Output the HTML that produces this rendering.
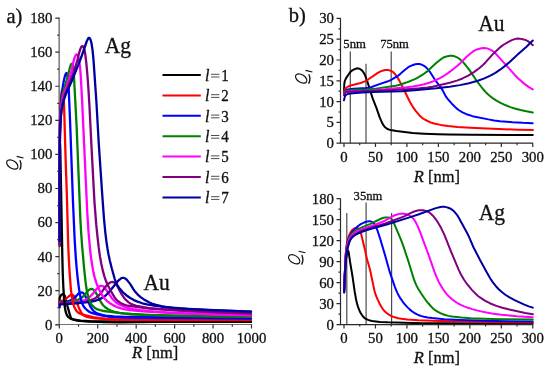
<!DOCTYPE html><html><head><meta charset="utf-8"><style>html,body{margin:0;padding:0;background:#fff;}svg{display:block;will-change:transform;}text{font-family:"Liberation Serif",serif;fill:#111;stroke:#111;stroke-width:0.3px;}</style></head><body>
<svg width="550" height="373" viewBox="0 0 550 373">
<rect width="550" height="373" fill="#fff"/>
<path d="M59.2,17.6 V325" stroke="#858585" stroke-width="1.7" fill="none"/>
<path d="M55.5,324.5 H251.8" stroke="#707070" stroke-width="1.2" fill="none"/>
<path d="M55.3,324.80 H59.2 M55.3,290.72 H59.2 M55.3,256.64 H59.2 M55.3,222.57 H59.2 M55.3,188.49 H59.2 M55.3,154.41 H59.2 M55.3,120.33 H59.2 M55.3,86.25 H59.2 M55.3,52.18 H59.2 M55.3,18.10 H59.2 M57.2,307.76 H59.2 M57.2,273.68 H59.2 M57.2,239.61 H59.2 M57.2,205.53 H59.2 M57.2,171.45 H59.2 M57.2,137.37 H59.2 M57.2,103.29 H59.2 M57.2,69.22 H59.2 M57.2,35.14 H59.2 M59.30,324.5 V328.6 M97.74,324.5 V328.6 M136.18,324.5 V328.6 M174.62,324.5 V328.6 M213.06,324.5 V328.6 M251.50,324.5 V328.6 M78.52,324.5 V326.8 M116.96,324.5 V326.8 M155.40,324.5 V326.8 M193.84,324.5 V326.8 M232.28,324.5 V326.8" stroke="#333" stroke-width="1.2" fill="none"/>
<g fill="none" stroke-width="2.30" stroke-linejoin="round" stroke-linecap="round">
<path d="M59.70,303.21 59.60,298.67 59.78,297.79 60.36,296.34 61.09,295.21 62.14,294.41 63.01,294.15 63.78,294.49 64.61,295.52 65.27,297.12 67.51,306.26 69.68,314.14 70.51,316.66 71.13,317.94 72.08,318.95 73.30,319.48 77.39,320.25 80.73,320.70 89.73,321.25 106.53,321.42 118.75,321.43 153.57,321.13 192.51,321.05 219.62,321.19 251.00,321.56" stroke="#000000"/>
<path d="M59.70,303.62 59.62,302.27 59.86,301.84 60.25,301.50 63.87,300.12 65.23,299.44 66.16,298.73 69.11,296.00 70.07,295.37 71.53,294.80 72.13,294.79 72.72,294.96 73.86,295.75 74.96,297.57 76.15,300.32 78.62,307.13 79.53,309.27 81.02,312.12 82.71,314.47 84.77,316.01 86.95,316.94 90.49,317.73 95.43,318.31 112.07,319.29 122.38,319.51 202.35,319.73 251.00,320.03" stroke="#ff0000"/>
<path d="M59.70,304.28 59.60,303.20 60.00,302.83 61.81,302.52 66.52,302.05 72.23,299.44 73.67,298.51 75.24,297.24 77.55,294.58 78.73,293.45 80.35,292.56 81.55,292.32 82.29,292.51 83.12,293.00 83.75,293.58 84.33,294.39 85.27,296.00 86.77,299.21 88.54,302.29 90.26,306.27 91.95,308.91 93.74,311.13 95.53,312.50 97.74,313.61 103.28,315.14 105.69,315.66 113.84,316.48 124.22,316.80 198.23,317.57 251.00,318.33" stroke="#0000ff"/>
<path d="M59.70,304.57 59.60,303.50 60.03,303.22 65.96,302.82 68.92,302.37 74.67,301.25 78.16,299.79 80.91,298.24 82.94,296.63 84.47,295.10 86.86,292.07 88.90,289.93 90.24,289.21 91.67,288.96 92.48,289.17 93.53,289.78 94.16,290.35 95.00,291.39 96.66,294.07 99.30,299.21 101.50,303.01 102.94,304.99 104.89,306.95 107.79,309.02 110.64,310.48 114.57,311.76 119.40,312.80 124.11,313.41 131.58,313.99 143.71,314.65 156.31,315.13 200.60,316.16 251.00,316.96" stroke="#008000"/>
<path d="M59.70,304.89 59.60,303.82 60.03,303.57 67.50,303.18 77.99,301.86 81.61,301.14 84.87,300.03 87.74,298.36 89.35,297.18 90.56,296.12 93.45,293.09 96.34,289.30 98.48,286.99 99.16,286.52 100.02,286.14 100.99,285.86 101.75,285.80 103.07,286.23 103.97,286.81 104.52,287.34 111.72,297.93 114.15,300.74 116.11,302.51 117.55,303.45 119.33,304.41 125.28,307.00 128.54,308.08 133.28,309.21 140.18,310.26 149.02,311.20 160.61,312.08 174.11,312.87 188.69,313.52 216.48,314.50 234.66,314.99 251.00,315.26" stroke="#ff00ff"/>
<path d="M59.70,305.14 59.61,303.97 60.05,303.73 73.40,303.04 83.15,302.14 85.12,301.81 87.07,301.31 90.78,300.13 93.20,299.19 94.78,298.41 96.29,297.43 98.07,296.04 99.57,294.63 101.54,292.36 104.75,287.69 106.38,285.68 107.46,284.55 110.34,282.44 111.28,282.05 112.19,281.94 113.32,282.17 114.55,282.70 115.33,283.33 116.25,284.40 117.10,285.71 120.09,291.54 121.39,293.81 124.00,297.68 126.14,300.16 128.69,302.42 130.87,303.89 133.27,304.87 136.57,305.76 143.59,307.20 149.28,308.02 158.19,308.93 170.85,309.90 186.65,310.85 212.98,312.15 232.98,312.98 251.00,313.55" stroke="#800080"/>
<path d="M59.70,307.23 59.64,305.04 59.99,304.69 60.65,304.46 64.51,304.04 76.57,303.47 87.68,302.20 91.70,301.54 94.86,300.84 97.77,299.94 100.47,298.85 103.56,297.07 106.12,295.04 109.29,291.68 118.36,280.55 121.10,278.33 121.96,277.92 122.79,277.80 123.84,277.99 125.23,278.53 126.05,279.07 126.92,279.90 130.09,283.90 133.50,289.41 134.76,291.20 137.50,294.30 140.28,296.84 143.92,299.43 148.91,302.28 151.81,303.54 156.06,304.83 162.22,306.29 166.61,307.11 171.86,307.72 179.33,308.33 203.06,309.64 251.00,311.68" stroke="#0000a0"/>
<path d="M59.68,246.11 59.62,173.72 59.79,154.42 59.95,146.74 60.09,144.82 60.30,149.93 62.38,258.89 62.76,273.19 63.30,286.51 64.16,300.06 64.65,305.50 65.09,308.87 65.75,311.88 66.60,314.52 67.34,315.95 68.40,317.12 70.07,318.38 71.90,319.23 75.41,320.13 79.31,320.82 82.59,321.21 86.33,321.46 103.98,322.20 119.79,322.35 153.77,321.90 251.00,321.90" stroke="#000000"/>
<path d="M59.67,245.50 59.60,170.64 59.87,123.94 60.32,109.36 60.93,98.41 61.28,94.60 61.72,91.53 62.16,89.78 62.43,89.33 62.63,89.30 63.05,90.36 63.40,92.86 63.98,103.06 65.83,165.89 66.80,192.81 68.19,244.63 68.69,256.74 69.59,272.23 70.80,288.36 71.47,294.14 72.29,299.50 73.07,303.23 73.99,306.21 75.24,308.99 76.59,311.07 78.03,312.40 80.23,313.68 82.68,314.64 85.81,315.47 93.13,317.03 100.08,318.22 106.73,319.06 113.14,319.56 129.56,319.97 148.73,320.18 251.00,320.20" stroke="#ff0000"/>
<path d="M59.67,243.67 59.65,149.96 59.85,130.67 60.29,115.44 60.72,107.08 61.26,99.85 61.94,93.33 62.88,86.25 63.79,80.79 64.80,76.48 65.80,73.75 66.24,73.15 66.61,73.08 66.96,73.50 67.30,74.47 67.87,77.93 68.38,83.78 68.89,92.61 70.03,120.39 72.98,201.71 74.66,239.62 75.78,257.56 76.62,267.74 77.52,276.79 78.57,285.62 79.55,292.32 80.58,297.60 81.74,302.11 82.83,304.94 84.10,307.04 85.83,308.99 88.04,310.95 89.71,312.06 91.54,312.83 96.88,314.39 102.46,315.64 108.11,316.54 113.91,317.11 127.20,317.67 140.33,317.96 203.57,318.02 251.00,318.50" stroke="#0000ff"/>
<path d="M59.66,242.46 59.58,184.02 59.70,144.53 60.00,126.00 60.80,109.20 61.70,99.63 62.29,95.84 63.01,92.48 64.19,88.24 66.88,79.56 70.30,66.18 70.73,64.99 71.17,64.18 71.61,63.78 72.06,63.76 72.43,64.09 72.71,64.67 73.24,67.22 73.64,71.29 74.10,78.89 76.62,126.58 80.37,219.32 81.10,232.06 82.10,245.71 84.12,268.59 85.52,281.53 86.34,287.79 87.35,293.15 88.65,298.26 89.87,301.76 91.21,304.18 93.17,306.46 95.37,308.27 97.43,309.37 100.26,310.22 103.92,311.01 108.27,311.67 124.46,313.60 131.64,314.31 144.77,314.96 179.83,315.91 218.93,316.60 251.00,316.96" stroke="#008000"/>
<path d="M59.66,242.46 59.59,180.98 59.73,142.13 60.13,123.79 60.51,116.00 61.01,109.30 61.96,101.65 62.60,98.38 63.42,95.17 64.27,92.55 66.66,86.17 70.58,74.22 71.69,70.11 73.45,61.69 74.35,58.35 75.07,56.44 75.73,55.15 76.33,54.49 76.86,54.43 77.46,55.07 78.04,56.38 78.59,58.25 79.12,60.66 80.01,67.11 80.73,75.63 82.17,101.83 87.24,212.19 88.54,232.16 90.18,250.50 91.19,258.76 92.36,266.49 93.57,272.87 94.79,277.89 96.35,282.90 98.16,287.57 100.31,291.95 102.78,296.10 104.81,298.79 107.16,301.06 110.43,303.60 113.78,305.61 117.06,307.04 121.25,308.39 125.15,309.29 129.88,310.03 137.21,310.80 146.83,311.52 165.54,312.63 180.97,313.39 219.99,314.68 251.00,315.26" stroke="#ff00ff"/>
<path d="M59.66,241.85 59.59,179.17 59.78,142.80 59.97,133.28 60.30,124.73 60.81,116.70 61.40,110.51 61.96,106.47 62.65,102.72 63.45,99.28 64.43,95.95 67.62,87.34 71.20,78.77 73.22,73.11 77.00,61.70 79.16,52.79 80.15,49.59 80.88,47.81 81.55,46.63 82.15,46.08 82.68,46.07 83.35,46.76 84.00,48.22 84.55,50.22 85.05,52.89 86.24,62.20 87.45,75.48 88.48,89.74 89.47,106.20 91.59,148.64 94.49,202.31 96.28,224.93 97.53,237.23 98.78,247.96 99.97,256.48 101.22,263.42 102.88,270.88 104.62,277.11 106.20,281.59 107.97,285.58 109.90,289.25 114.30,296.94 116.03,299.31 118.08,301.24 120.59,302.98 123.41,304.33 126.23,305.27 129.28,305.97 141.65,307.70 147.91,308.35 156.31,309.03 180.75,310.55 218.93,312.36 251.00,313.55" stroke="#800080"/>
<path d="M59.66,241.24 59.60,184.07 59.83,148.95 60.13,134.65 60.52,123.00 60.95,116.03 61.59,110.26 62.26,106.39 63.20,102.38 64.25,98.76 65.54,95.09 67.66,89.92 71.94,80.68 79.30,62.32 81.47,56.51 86.85,41.00 88.18,38.43 88.71,37.90 89.24,37.83 89.84,38.36 90.43,39.49 90.99,41.15 91.53,43.38 92.51,49.93 93.47,59.35 96.42,101.97 98.71,142.49 102.18,194.01 103.98,218.74 105.44,233.53 106.46,241.75 107.45,248.44 108.57,254.73 109.82,260.59 111.74,268.20 114.59,278.51 115.95,282.38 117.51,285.47 119.83,288.86 122.94,292.28 126.27,295.21 130.23,297.99 133.89,300.11 137.55,301.68 142.28,303.26 147.01,304.36 154.11,305.55 163.73,306.77 175.56,308.02 186.56,308.93 208.93,310.12 251.00,311.68" stroke="#0000a0"/>
</g>
<text transform="translate(52.40,329.70) scale(1,1.03)" font-size="14.8" text-anchor="end">0</text>
<text transform="translate(52.40,295.62) scale(1,1.03)" font-size="14.8" text-anchor="end">20</text>
<text transform="translate(52.40,261.54) scale(1,1.03)" font-size="14.8" text-anchor="end">40</text>
<text transform="translate(52.40,227.47) scale(1,1.03)" font-size="14.8" text-anchor="end">60</text>
<text transform="translate(52.40,193.39) scale(1,1.03)" font-size="14.8" text-anchor="end">80</text>
<text transform="translate(52.40,159.31) scale(1,1.03)" font-size="14.8" text-anchor="end">100</text>
<text transform="translate(52.40,125.23) scale(1,1.03)" font-size="14.8" text-anchor="end">120</text>
<text transform="translate(52.40,91.15) scale(1,1.03)" font-size="14.8" text-anchor="end">140</text>
<text transform="translate(52.40,57.08) scale(1,1.03)" font-size="14.8" text-anchor="end">160</text>
<text transform="translate(52.40,23.00) scale(1,1.03)" font-size="14.8" text-anchor="end">180</text>
<text transform="translate(59.30,342.70) scale(1,1.03)" font-size="14.8" text-anchor="middle">0</text>
<text transform="translate(97.74,342.70) scale(1,1.03)" font-size="14.8" text-anchor="middle">200</text>
<text transform="translate(136.18,342.70) scale(1,1.03)" font-size="14.8" text-anchor="middle">400</text>
<text transform="translate(174.62,342.70) scale(1,1.03)" font-size="14.8" text-anchor="middle">600</text>
<text transform="translate(213.06,342.70) scale(1,1.03)" font-size="14.8" text-anchor="middle">800</text>
<text transform="translate(251.50,342.70) scale(1,1.03)" font-size="14.8" text-anchor="middle">1000</text>
<text transform="translate(132.00,358.30) scale(1,1.05)" font-size="16.5"><tspan font-style="italic">R</tspan> [nm]</text>
<g transform="translate(12.30,164.50)" fill="none" stroke="#111"><ellipse cx="0" cy="0" rx="6.3" ry="3.75" transform="rotate(32)" stroke-width="1.15"/><path d="M7.6,-4.3 Q9.9,0.5 7.4,5.3" stroke-width="1.35"/><path d="M4.4,-8.1 L11.2,-6.5" stroke-width="1.15"/></g>
<text transform="translate(6.50,22.90) scale(1,1.05)" font-size="20.5">a)</text>
<text transform="translate(104.80,53.40) scale(1,1.05)" font-size="21.5">Ag</text>
<text transform="translate(143.40,289.60) scale(1,1.05)" font-size="21.5">Au</text>
<path d="M162.5,75.00 H200.8" stroke="#000000" stroke-width="2" />
<text transform="translate(205.00,80.80) scale(1,1.05)" font-size="15"><tspan x="0" font-style="italic" font-size="16">l</tspan><tspan x="16.3">1</tspan></text>
<path d="M211,74.30 H219.4 M211,77.00 H219.4" stroke="#3a3a3a" stroke-width="0.9"/>
<path d="M162.5,95.40 H200.8" stroke="#ff0000" stroke-width="2" />
<text transform="translate(205.00,101.20) scale(1,1.05)" font-size="15"><tspan x="0" font-style="italic" font-size="16">l</tspan><tspan x="16.3">2</tspan></text>
<path d="M211,94.70 H219.4 M211,97.40 H219.4" stroke="#3a3a3a" stroke-width="0.9"/>
<path d="M162.5,115.80 H200.8" stroke="#0000ff" stroke-width="2" />
<text transform="translate(205.00,121.60) scale(1,1.05)" font-size="15"><tspan x="0" font-style="italic" font-size="16">l</tspan><tspan x="16.3">3</tspan></text>
<path d="M211,115.10 H219.4 M211,117.80 H219.4" stroke="#3a3a3a" stroke-width="0.9"/>
<path d="M162.5,136.20 H200.8" stroke="#008000" stroke-width="2" />
<text transform="translate(205.00,142.00) scale(1,1.05)" font-size="15"><tspan x="0" font-style="italic" font-size="16">l</tspan><tspan x="16.3">4</tspan></text>
<path d="M211,135.50 H219.4 M211,138.20 H219.4" stroke="#3a3a3a" stroke-width="0.9"/>
<path d="M162.5,156.60 H200.8" stroke="#ff00ff" stroke-width="2" />
<text transform="translate(205.00,162.40) scale(1,1.05)" font-size="15"><tspan x="0" font-style="italic" font-size="16">l</tspan><tspan x="16.3">5</tspan></text>
<path d="M211,155.90 H219.4 M211,158.60 H219.4" stroke="#3a3a3a" stroke-width="0.9"/>
<path d="M162.5,177.00 H200.8" stroke="#800080" stroke-width="2" />
<text transform="translate(205.00,182.80) scale(1,1.05)" font-size="15"><tspan x="0" font-style="italic" font-size="16">l</tspan><tspan x="16.3">6</tspan></text>
<path d="M211,176.30 H219.4 M211,179.00 H219.4" stroke="#3a3a3a" stroke-width="0.9"/>
<path d="M162.5,197.40 H200.8" stroke="#0000a0" stroke-width="2" />
<text transform="translate(205.00,203.20) scale(1,1.05)" font-size="15"><tspan x="0" font-style="italic" font-size="16">l</tspan><tspan x="16.3">7</tspan></text>
<path d="M211,196.70 H219.4 M211,199.40 H219.4" stroke="#3a3a3a" stroke-width="0.9"/>
<path d="M350.30,51.50 V143.20" stroke="#4a4a4a" stroke-width="1.2" fill="none"/>
<path d="M366.00,63.80 V143.20" stroke="#4a4a4a" stroke-width="1.2" fill="none"/>
<path d="M391.20,51.50 V143.20" stroke="#4a4a4a" stroke-width="1.2" fill="none"/>
<g fill="none" stroke-width="2.00" stroke-linejoin="round" stroke-linecap="round">
<path d="M344.00,90.50 344.34,83.51 344.93,80.57 346.12,78.10 349.88,72.52 351.29,71.11 352.70,70.10 354.70,69.09 356.58,68.49 357.79,68.37 358.98,68.57 360.30,69.19 361.50,70.07 362.71,71.31 363.72,72.73 364.68,74.48 365.56,76.55 367.50,81.96 372.76,98.65 376.50,108.19 379.70,117.40 381.91,122.44 383.62,125.48 384.38,126.46 385.44,127.51 386.62,128.42 387.69,129.04 389.07,129.59 390.76,130.06 396.42,131.04 412.56,132.93 424.03,133.69 438.02,134.32 448.52,134.58 471.77,134.78 532.77,135.00" stroke="#000000"/>
<path d="M344.00,91.50 344.70,89.63 345.17,88.74 346.26,87.72 348.14,86.53 350.70,85.58 360.61,82.95 364.83,81.39 368.09,79.55 377.77,72.90 380.66,71.43 383.25,70.51 385.18,70.03 386.91,69.89 388.63,70.09 391.22,70.98 392.31,71.56 393.31,72.28 394.84,73.91 397.19,77.14 399.13,80.35 401.38,84.54 409.96,102.05 413.06,107.18 416.11,111.46 419.54,115.44 422.09,117.82 425.45,119.98 429.49,121.95 431.83,122.83 433.98,123.47 440.58,124.89 448.01,125.97 457.46,126.89 470.44,127.73 486.93,128.53 517.66,129.73 532.91,130.10" stroke="#ff0000"/>
<path d="M344.00,93.10 345.41,90.46 346.01,90.05 347.40,89.61 349.36,89.27 353.58,88.83 365.81,88.08 369.28,87.65 371.69,86.99 377.99,84.59 387.26,81.57 389.57,80.60 392.03,79.37 397.41,76.19 399.80,74.39 402.92,71.50 405.99,68.95 407.99,67.45 409.69,66.41 412.20,65.29 415.29,64.28 417.49,63.91 419.46,64.00 421.61,64.62 424.07,65.82 425.68,66.99 427.25,68.58 430.52,72.69 435.59,80.72 441.25,88.03 442.68,90.38 445.31,95.49 446.55,97.36 448.07,99.34 451.84,103.69 456.27,108.09 459.03,110.24 462.46,112.29 467.47,114.54 472.47,116.15 488.39,119.39 494.05,120.40 500.01,121.14 512.47,122.19 522.70,122.82 532.70,123.19" stroke="#0000ff"/>
<path d="M344.00,93.80 345.45,91.19 345.84,90.92 347.50,90.55 352.97,90.08 367.21,89.55 375.91,88.62 395.70,85.74 399.82,84.69 406.23,82.57 411.14,80.71 415.48,78.79 419.03,76.95 422.64,74.70 427.86,70.84 435.87,63.30 440.31,59.65 442.77,57.95 444.79,56.99 447.66,56.14 450.12,55.72 452.10,55.73 453.32,55.95 454.75,56.38 458.15,57.95 460.16,59.41 463.04,62.18 465.51,65.00 468.70,69.17 471.03,72.42 476.46,80.52 483.16,89.24 485.47,91.88 487.59,93.99 490.26,96.26 493.06,98.36 496.84,100.80 501.02,103.05 505.76,105.30 510.41,107.14 514.70,108.51 520.50,110.04 526.36,111.32 532.76,112.47" stroke="#008000"/>
<path d="M344.00,94.60 345.44,91.99 345.84,91.72 347.50,91.41 352.23,91.10 365.23,90.81 372.22,90.44 406.58,87.23 412.78,86.46 418.45,85.48 424.30,84.17 429.11,82.80 433.55,81.10 438.52,78.76 444.02,75.77 447.99,73.17 452.78,69.55 457.44,65.77 460.77,62.75 466.92,56.53 471.31,52.81 473.93,50.90 475.90,49.84 478.26,49.01 481.41,48.24 483.89,47.97 486.11,48.15 488.50,48.85 491.66,50.33 493.71,51.74 495.66,53.67 509.24,68.69 514.68,74.90 517.45,77.78 521.74,81.61 525.83,84.91 529.30,87.36 532.76,89.36" stroke="#ff00ff"/>
<path d="M344.00,95.20 345.09,92.95 345.51,92.35 345.92,92.10 347.82,91.77 353.06,91.46 367.31,91.12 389.04,90.21 407.27,89.19 419.49,88.28 427.45,87.46 432.39,86.70 439.00,85.31 449.69,82.72 456.88,80.59 462.49,78.47 468.30,75.54 474.26,71.88 478.87,68.45 483.23,64.70 485.67,62.19 492.66,54.35 496.99,50.20 500.15,47.36 502.30,45.65 504.37,44.25 508.94,41.66 511.84,40.19 514.63,39.12 517.32,38.60 519.81,38.64 522.75,39.17 525.86,40.11 527.86,41.11 530.26,42.89 532.82,45.27" stroke="#800080"/>
<path d="M344.00,100.30 344.73,96.88 345.23,95.73 345.65,95.13 346.04,94.83 347.58,94.10 350.25,93.50 355.72,92.94 362.96,92.52 372.95,92.12 392.20,91.61 401.69,91.15 414.41,90.21 436.33,88.25 449.49,86.73 459.87,85.12 468.92,83.20 477.82,80.70 483.71,78.61 489.87,75.84 495.37,72.88 500.14,69.67 505.67,65.38 509.69,62.01 517.94,54.35 526.53,46.70 532.78,40.57" stroke="#0000a0"/>
</g>
<path d="M340.5,18.10 V143.70 M336.5,143.20 H533.1 M336.5,143.20 H340.5 M336.5,122.40 H340.5 M336.5,101.60 H340.5 M336.5,80.80 H340.5 M336.5,60.00 H340.5 M336.5,39.20 H340.5 M336.5,18.40 H340.5 M338.5,132.80 H340.5 M338.5,112.00 H340.5 M338.5,91.20 H340.5 M338.5,70.40 H340.5 M338.5,49.60 H340.5 M338.5,28.80 H340.5 M344.00,143.20 V147.00 M375.46,143.20 V147.00 M406.93,143.20 V147.00 M438.39,143.20 V147.00 M469.86,143.20 V147.00 M501.32,143.20 V147.00 M532.79,143.20 V147.00 M359.73,143.20 V145.20 M391.20,143.20 V145.20 M422.66,143.20 V145.20 M454.13,143.20 V145.20 M485.59,143.20 V145.20 M517.06,143.20 V145.20" stroke="#2a2a2a" stroke-width="1.2" fill="none"/>
<text transform="translate(334.00,148.10) scale(1,1.03)" font-size="14.8" text-anchor="end">0</text>
<text transform="translate(334.00,127.30) scale(1,1.03)" font-size="14.8" text-anchor="end">5</text>
<text transform="translate(334.00,106.50) scale(1,1.03)" font-size="14.8" text-anchor="end">10</text>
<text transform="translate(334.00,85.70) scale(1,1.03)" font-size="14.8" text-anchor="end">15</text>
<text transform="translate(334.00,64.90) scale(1,1.03)" font-size="14.8" text-anchor="end">20</text>
<text transform="translate(334.00,44.10) scale(1,1.03)" font-size="14.8" text-anchor="end">25</text>
<text transform="translate(334.00,23.30) scale(1,1.03)" font-size="14.8" text-anchor="end">30</text>
<text transform="translate(344.00,161.80) scale(1,1.03)" font-size="14.8" text-anchor="middle">0</text>
<text transform="translate(375.46,161.80) scale(1,1.03)" font-size="14.8" text-anchor="middle">50</text>
<text transform="translate(406.93,161.80) scale(1,1.03)" font-size="14.8" text-anchor="middle">100</text>
<text transform="translate(438.39,161.80) scale(1,1.03)" font-size="14.8" text-anchor="middle">150</text>
<text transform="translate(469.86,161.80) scale(1,1.03)" font-size="14.8" text-anchor="middle">200</text>
<text transform="translate(501.32,161.80) scale(1,1.03)" font-size="14.8" text-anchor="middle">250</text>
<text transform="translate(532.79,161.80) scale(1,1.03)" font-size="14.8" text-anchor="middle">300</text>
<text transform="translate(343.30,48.10) scale(1,1.05)" font-size="12.7">5nm</text>
<text transform="translate(380.20,48.10) scale(1,1.05)" font-size="12.6">75nm</text>
<text transform="translate(413.80,181.60) scale(1,1.05)" font-size="16.5"><tspan font-style="italic">R</tspan> [nm]</text>
<g transform="translate(301.20,78.50)" fill="none" stroke="#111"><ellipse cx="0" cy="0" rx="6.3" ry="3.75" transform="rotate(32)" stroke-width="1.15"/><path d="M7.6,-4.3 Q9.9,0.5 7.4,5.3" stroke-width="1.35"/><path d="M4.4,-8.1 L11.2,-6.5" stroke-width="1.15"/></g>
<text transform="translate(288.80,21.60) scale(1,1.05)" font-size="20.5">b)</text>
<text transform="translate(478.20,30.50) scale(1,1.05)" font-size="21.5">Au</text>
<path d="M346.80,212.90 V324.60" stroke="#4a4a4a" stroke-width="1.2" fill="none"/>
<path d="M366.10,202.40 V324.60" stroke="#4a4a4a" stroke-width="1.2" fill="none"/>
<path d="M391.60,212.90 V324.60" stroke="#4a4a4a" stroke-width="1.2" fill="none"/>
<g fill="none" stroke-width="2.00" stroke-linejoin="round" stroke-linecap="round">
<path d="M344.10,292.30 344.85,273.06 345.47,264.08 346.02,259.11 346.63,255.16 347.44,251.51 347.69,250.93 348.01,250.72 348.39,251.18 348.78,252.82 350.09,261.98 352.60,277.03 354.73,291.88 356.17,300.00 357.23,304.38 358.38,307.94 359.51,310.73 360.65,312.95 362.25,315.48 363.49,317.05 364.58,318.06 366.07,318.97 368.12,319.89 370.02,320.52 372.21,321.01 379.91,321.89 387.90,322.35 404.40,322.83 422.90,323.14 451.66,323.34 532.68,323.60" stroke="#000000"/>
<path d="M344.10,292.30 344.92,271.81 345.65,257.08 346.32,247.60 346.97,242.64 347.67,239.73 348.83,236.17 349.98,233.41 351.07,231.47 352.28,229.93 353.76,228.72 355.23,228.07 356.74,227.96 357.35,228.10 358.11,228.48 358.77,229.05 359.34,229.77 360.33,231.70 361.18,234.30 365.19,250.82 366.97,259.13 369.24,266.79 370.18,270.42 374.49,290.72 375.21,293.37 376.11,295.97 377.58,299.41 379.66,303.69 381.21,306.54 382.69,308.85 384.26,310.78 386.03,312.52 388.18,314.22 390.30,315.52 392.33,316.46 394.92,317.34 398.06,318.17 401.25,318.80 407.45,319.56 418.18,320.25 440.42,321.00 475.67,321.83 504.92,322.29 532.68,322.50" stroke="#ff0000"/>
<path d="M344.10,292.30 345.07,266.56 345.85,253.08 346.37,248.61 346.99,244.92 347.76,241.76 348.83,238.43 350.34,235.01 352.34,231.86 354.79,229.05 358.13,226.05 361.20,223.92 364.56,222.29 367.64,221.40 369.08,221.27 370.26,221.35 371.39,221.66 372.23,222.07 373.18,222.77 374.02,223.63 374.87,224.81 375.60,226.11 377.29,229.99 379.88,237.82 384.89,254.60 389.80,272.18 394.94,287.06 397.22,292.61 398.84,295.70 400.79,298.91 402.78,301.78 404.80,304.33 407.31,307.11 409.64,309.37 411.95,311.27 414.23,312.80 416.62,314.15 419.11,315.29 421.46,316.11 424.12,316.79 427.56,317.43 432.27,318.08 444.21,319.30 459.94,320.03 484.94,320.79 508.44,321.26 532.69,321.50" stroke="#0000ff"/>
<path d="M344.10,292.30 345.22,264.07 345.69,256.08 346.13,251.35 346.80,246.65 347.56,243.24 348.97,239.24 350.75,235.67 352.16,233.63 353.85,231.84 355.83,230.34 358.44,228.91 370.44,223.93 379.84,219.27 382.12,218.27 383.76,217.77 385.22,217.52 386.94,217.43 388.39,217.55 389.75,217.91 390.76,218.44 391.78,219.37 392.59,220.54 394.00,223.43 400.64,238.81 402.85,244.65 408.99,263.17 413.87,279.19 415.19,282.70 416.66,285.87 418.33,288.94 420.56,292.56 423.18,296.52 425.53,299.76 428.35,303.26 431.47,306.84 433.41,308.77 435.16,310.16 437.49,311.61 440.37,313.10 443.13,314.27 445.97,315.21 448.64,315.86 451.83,316.42 461.26,317.59 470.49,318.27 483.73,318.74 501.73,319.14 532.73,319.61" stroke="#008000"/>
<path d="M344.10,292.30 345.29,263.07 345.78,255.33 346.32,250.36 347.07,245.68 348.04,242.33 349.52,238.90 351.36,235.95 352.66,234.46 354.15,233.15 356.00,231.91 357.98,230.86 361.44,229.43 370.20,226.48 382.58,221.74 386.42,219.94 391.76,216.72 394.21,215.51 397.03,214.51 399.69,213.87 401.90,213.61 404.11,213.71 405.80,214.05 407.45,214.59 409.25,215.41 410.72,216.32 412.07,217.40 413.28,218.64 414.50,220.20 415.56,221.89 417.64,226.15 420.32,232.61 428.93,255.82 434.18,270.93 436.35,276.53 438.15,280.65 439.51,283.33 441.25,286.36 443.13,289.31 445.01,291.96 446.73,294.10 448.42,295.94 452.32,299.44 455.12,301.54 457.85,303.28 460.71,304.81 464.14,306.33 468.12,307.82 472.17,309.11 476.75,310.35 482.10,311.61 491.68,313.47 501.34,314.75 516.78,316.20 532.75,317.21" stroke="#ff00ff"/>
<path d="M344.10,292.30 345.42,262.58 345.89,256.09 346.59,250.39 347.36,246.47 348.68,242.71 350.39,239.39 351.37,237.96 352.49,236.64 354.33,234.98 356.81,233.32 359.68,231.82 362.91,230.49 372.86,227.13 384.60,223.61 391.20,221.29 403.59,216.61 406.08,215.45 410.90,212.84 414.14,211.55 416.77,210.78 418.96,210.34 421.19,210.17 423.16,210.28 425.11,210.64 426.98,211.25 428.73,212.14 430.33,213.30 432.34,215.15 434.17,217.19 436.14,219.77 437.94,222.47 441.17,228.12 444.42,234.87 451.44,252.52 458.62,269.58 460.97,274.54 463.88,279.50 467.18,284.20 471.64,289.59 475.96,294.10 478.01,295.93 479.98,297.46 484.82,300.57 490.36,303.45 496.37,305.91 502.32,307.79 509.35,309.56 525.22,313.07 532.86,314.34" stroke="#800080"/>
<path d="M344.10,292.30 344.85,276.32 345.51,265.34 346.04,259.11 346.89,252.67 348.14,246.55 348.93,243.65 349.65,241.53 350.36,239.96 351.13,238.70 352.06,237.56 353.12,236.54 355.33,234.95 358.41,233.30 362.08,231.73 366.32,230.23 373.01,228.19 386.77,224.47 411.11,216.86 418.22,214.48 435.85,208.11 440.46,207.01 442.43,206.81 444.15,206.84 446.11,207.12 448.26,207.72 450.08,208.48 451.57,209.36 453.13,210.57 454.73,212.13 456.35,214.03 457.65,215.85 459.18,218.42 467.53,233.80 469.13,237.19 473.58,247.52 479.78,259.51 486.99,272.66 490.73,279.16 493.06,282.71 495.89,286.20 498.97,289.47 502.12,292.32 505.30,294.73 509.10,297.14 514.62,300.07 524.36,304.62 528.76,306.41 532.81,307.66" stroke="#0000a0"/>
</g>
<path d="M340.5,198.41 V325.10 M336.5,324.60 H533.1 M336.5,324.60 H340.5 M336.5,303.62 H340.5 M336.5,282.64 H340.5 M336.5,261.65 H340.5 M336.5,240.67 H340.5 M336.5,219.69 H340.5 M336.5,198.71 H340.5 M338.5,314.11 H340.5 M338.5,293.13 H340.5 M338.5,272.15 H340.5 M338.5,251.16 H340.5 M338.5,230.18 H340.5 M338.5,209.20 H340.5 M344.00,324.60 V328.40 M375.46,324.60 V328.40 M406.93,324.60 V328.40 M438.39,324.60 V328.40 M469.86,324.60 V328.40 M501.32,324.60 V328.40 M532.79,324.60 V328.40 M359.73,324.60 V326.60 M391.20,324.60 V326.60 M422.66,324.60 V326.60 M454.13,324.60 V326.60 M485.59,324.60 V326.60 M517.06,324.60 V326.60" stroke="#2a2a2a" stroke-width="1.2" fill="none"/>
<text transform="translate(334.00,329.50) scale(1,1.03)" font-size="14.8" text-anchor="end">0</text>
<text transform="translate(334.00,308.52) scale(1,1.03)" font-size="14.8" text-anchor="end">30</text>
<text transform="translate(334.00,287.54) scale(1,1.03)" font-size="14.8" text-anchor="end">60</text>
<text transform="translate(334.00,266.55) scale(1,1.03)" font-size="14.8" text-anchor="end">90</text>
<text transform="translate(334.00,245.57) scale(1,1.03)" font-size="14.8" text-anchor="end">120</text>
<text transform="translate(334.00,224.59) scale(1,1.03)" font-size="14.8" text-anchor="end">150</text>
<text transform="translate(334.00,203.61) scale(1,1.03)" font-size="14.8" text-anchor="end">180</text>
<text transform="translate(344.00,342.80) scale(1,1.03)" font-size="14.8" text-anchor="middle">0</text>
<text transform="translate(375.46,342.80) scale(1,1.03)" font-size="14.8" text-anchor="middle">50</text>
<text transform="translate(406.93,342.80) scale(1,1.03)" font-size="14.8" text-anchor="middle">100</text>
<text transform="translate(438.39,342.80) scale(1,1.03)" font-size="14.8" text-anchor="middle">150</text>
<text transform="translate(469.86,342.80) scale(1,1.03)" font-size="14.8" text-anchor="middle">200</text>
<text transform="translate(501.32,342.80) scale(1,1.03)" font-size="14.8" text-anchor="middle">250</text>
<text transform="translate(532.79,342.80) scale(1,1.03)" font-size="14.8" text-anchor="middle">300</text>
<text transform="translate(353.60,200.00) scale(1,1.05)" font-size="12.6">35nm</text>
<text transform="translate(413.80,362.50) scale(1,1.05)" font-size="16.5"><tspan font-style="italic">R</tspan> [nm]</text>
<g transform="translate(294.20,259.30)" fill="none" stroke="#111"><ellipse cx="0" cy="0" rx="6.3" ry="3.75" transform="rotate(32)" stroke-width="1.15"/><path d="M7.6,-4.3 Q9.9,0.5 7.4,5.3" stroke-width="1.35"/><path d="M4.4,-8.1 L11.2,-6.5" stroke-width="1.15"/></g>
<text transform="translate(478.80,220.30) scale(1,1.05)" font-size="21.5">Ag</text>
</svg></body></html>
